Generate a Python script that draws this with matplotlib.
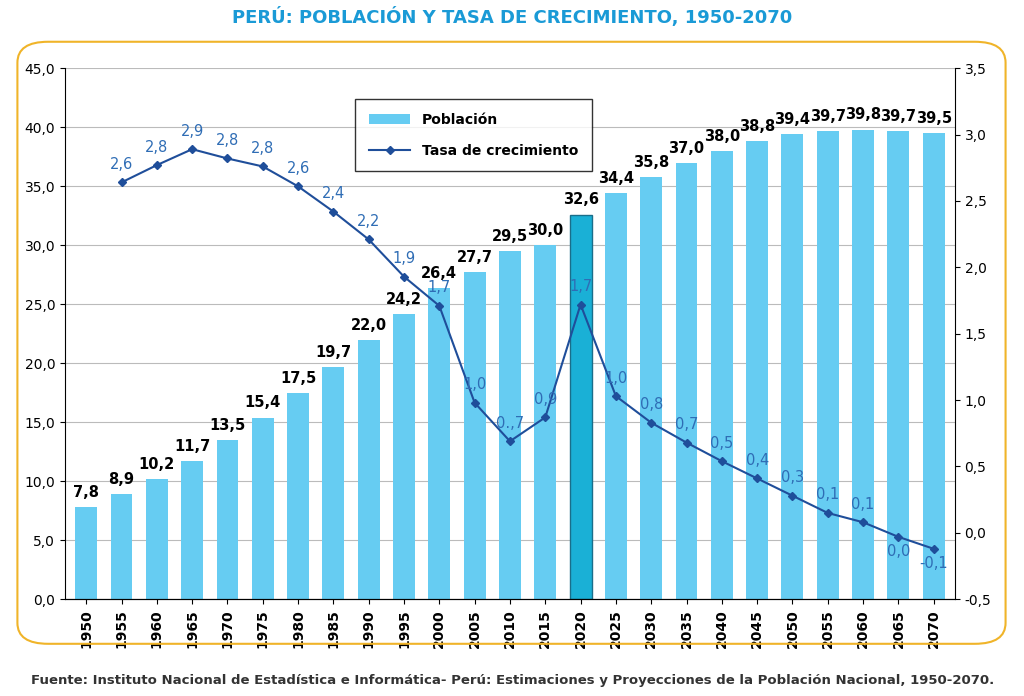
import matplotlib
matplotlib.use("Agg")
import matplotlib.pyplot as plt
from matplotlib.patches import FancyBboxPatch

years = [1950, 1955, 1960, 1965, 1970, 1975, 1980, 1985, 1990, 1995, 2000, 2005,
         2010, 2015, 2020, 2025, 2030, 2035, 2040, 2045, 2050, 2055, 2060, 2065, 2070]
poblacion = [7.8, 8.9, 10.2, 11.7, 13.5, 15.4, 17.5, 19.7, 22.0, 24.2, 26.4, 27.7,
             29.5, 30.0, 32.6, 34.4, 35.8, 37.0, 38.0, 38.8, 39.4, 39.7, 39.8, 39.7, 39.5]
tasa_years = years[1:]
tasa = [2.64, 2.77, 2.89, 2.82, 2.76, 2.61, 2.42, 2.21, 1.93, 1.71, 0.98, 0.69,
        0.87, 1.72, 1.03, 0.83, 0.68, 0.54, 0.41, 0.28, 0.15, 0.08, -0.03, -0.12]
tasa_labels = ["2,6", "2,8", "2,9", "2,8", "2,8", "2,6", "2,4", "2,2", "1,9", "1,7", "1,0", "0.,7",
               "0,9", "1,7", "1,0", "0,8", "0,7", "0,5", "0,4", "0,3", "0,1", "0,1", "0,0", "-0,1"]

blue_line = "#1f4e9a"
fig = plt.figure(figsize=(10.24, 6.96), dpi=100)
fig.patches.append(FancyBboxPatch((0.017, 0.075), 0.965, 0.865, boxstyle="round,pad=0,rounding_size=0.03",
                                  transform=fig.transFigure, fill=False, edgecolor="#f0b429", linewidth=1.5))
ax = fig.add_axes([0.0635, 0.139, 0.869, 0.763])
x = list(range(len(years)))
colors = ["#1ab0d6" if y == 2020 else "#66ccf2" for y in years]
bars = ax.bar(x, poblacion, width=0.62, color=colors, label="Población", zorder=2)
bars[years.index(2020)].set_edgecolor("#1a6e8a")
for xi, v in zip(x, poblacion):
    ax.text(xi, v + 0.6, f"{v:.1f}".replace(".", ","), ha="center", va="bottom", fontsize=10.5, fontweight="bold")
ax.set_ylim(0, 45)
ax.set_yticks([i * 5 for i in range(10)])
ax.set_yticklabels([f"{i*5:.1f}".replace(".", ",") for i in range(10)], fontsize=10)
ax.set_xlim(-0.6, len(years) - 0.4)
ax.set_xticks(x)
ax.set_xticklabels([str(y) for y in years], rotation=90, fontsize=10, fontweight="bold")
ax.yaxis.grid(True, color="#bbbbbb", linewidth=0.8, zorder=0)
ax.set_axisbelow(True)
for s in ["top", "right"]:
    ax.spines[s].set_visible(False)

ax2 = ax.twinx()
tx = [years.index(y) for y in tasa_years]
ax2.plot(tx, tasa, color=blue_line, marker="D", markersize=4, linewidth=1.5, label="Tasa de crecimiento")
for xi, v, lab in zip(tx, tasa, tasa_labels):
    dy = -0.17 if v < 0 else 0.08
    ax2.text(xi, v + dy, lab, ha="center", va="bottom", fontsize=10.5, color="#2f6db5")
ax2.set_ylim(-0.5, 3.5)
ax2.set_yticks([i * 0.5 - 0.5 for i in range(9)])
ax2.set_yticklabels([f"{i*0.5-0.5:.1f}".replace(".", ",") for i in range(9)], fontsize=10)
for s in ["top", "left"]:
    ax2.spines[s].set_visible(False)

h1, l1 = ax.get_legend_handles_labels()
h2, l2 = ax2.get_legend_handles_labels()
leg = ax2.legend(h1 + h2, l1 + l2, loc="upper left", bbox_to_anchor=(0.318, 0.955),
                 prop={"weight": "bold", "size": 10}, frameon=True, fancybox=False,
                 borderpad=1.0, labelspacing=1.2, handlelength=3)
leg.get_frame().set_edgecolor("black")

fig.text(0.5, 0.975, "PERÚ: POBLACIÓN Y TASA DE CRECIMIENTO, 1950-2070", ha="center", va="center",
         color="#1a9ad6", fontsize=13, fontweight="bold")
fig.text(0.03, 0.022, "Fuente: Instituto Nacional de Estadística e Informática- Perú: Estimaciones y Proyecciones de la Población Nacional, 1950-2070.",
         ha="left", va="center", fontsize=9.5, fontweight="bold", color="#333333")
fig.savefig("out.png", dpi=100)
